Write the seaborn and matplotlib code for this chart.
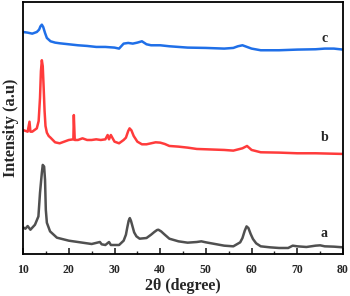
import numpy as np
import pandas as pd
import seaborn as sns
import matplotlib
matplotlib.use("Agg")
import matplotlib.pyplot as plt
from matplotlib.ticker import MultipleLocator

# 2theta positions and intensities (arbitrary units)
two_theta_a = [10, 10.5, 11, 11.6, 12.6, 13.35, 13.7, 14.1, 14.3, 14.6, 14.8, 14.97, 15.2, 15.9, 17.4,
               20, 25, 26.8, 27.2, 28, 28.8, 29.2, 30, 31, 32, 32.5, 32.8, 33.1, 33.35, 33.6, 33.9,
               34.3, 34.8, 35.5, 37, 38, 38.7, 39.3, 39.6, 40.2, 41, 42, 44, 46, 48, 49, 50, 52, 54,
               56, 57.5, 58, 58.5, 58.9, 59.3, 59.8, 60.3, 61, 62, 64, 66, 68, 69, 70, 72, 74, 75,
               76, 78, 80]
intensity_a = [80, 76, 84, 73, 88, 113, 184, 244, 268, 263, 223, 133, 94, 68, 49,
               40, 30, 36, 29, 27, 36, 27, 27, 27, 40, 58, 80, 100, 108, 100, 85,
               65, 53, 46, 48, 58, 66, 72, 73, 68, 58, 46, 38, 34, 36, 38, 35, 30, 25,
               23, 35, 48, 70, 83, 78, 60, 45, 32, 23, 20, 18, 18, 25, 23, 21, 25, 26,
               23, 22, 20]

two_theta_b = [10, 11, 11.4, 11.6, 12, 13, 13.4, 13.7, 13.9, 14.1, 14.3, 14.5, 14.7, 14.9, 15.2, 15.6,
               16, 17, 18, 19, 20, 21, 21.1, 21.3, 22, 23, 24, 25, 26, 27, 28, 28.5, 28.8, 29.2,
               30, 31, 32, 32.5, 33, 33.3, 33.7, 34.2, 35, 36, 37, 38, 39, 40, 41, 42, 44, 46,
               48, 50, 54, 56, 58, 59, 60, 62, 66, 70, 74, 80]
intensity_b = [373, 368, 398, 368, 368, 378, 400, 470, 550, 583, 565, 500, 430, 385, 365, 355,
               350, 336, 333, 338, 343, 345, 418, 343, 343, 348, 343, 343, 345, 343, 345, 358, 345, 358,
               338, 333, 343, 350, 370, 378, 372, 355, 338, 330, 330, 333, 336, 335, 331, 325, 323, 320,
               316, 315, 313, 311, 318, 325, 313, 306, 305, 303, 303, 301]

two_theta_c = [10, 11, 12, 13, 13.5, 13.8, 14.1, 14.4, 14.8, 15.2, 16, 17, 18, 20, 22, 24, 26, 28,
               30, 31, 32, 33, 34, 35, 36, 37, 38, 40, 42, 44, 46, 50, 54, 56, 57, 58, 59, 60,
               62, 64, 66, 70, 74, 76, 78, 80]
intensity_c = [668, 666, 663, 668, 675, 685, 690, 683, 665, 650, 640, 636, 634, 631, 628, 626, 623, 623,
               621, 618, 633, 635, 633, 636, 640, 631, 628, 628, 625, 623, 621, 620, 618, 620, 625, 628, 623, 618,
               613, 613, 613, 615, 616, 618, 618, 615]

sample_labels = ["a", "b", "c"]

sns.set_theme(style="ticks")
plt.rcParams['font.family'] = ['Liberation Serif', 'DejaVu Serif']
plt.rcParams['font.weight'] = 'bold'

fig = plt.figure(figsize=(3.5, 2.96), dpi=100)
ax = fig.add_axes([0.066, 0.142, 0.914, 0.851])

colors = ["#505050", "#ff3b3b", "#1f6fe8"]
series = [(two_theta_a, intensity_a), (two_theta_b, intensity_b), (two_theta_c, intensity_c)]
for (xs, ys), col in zip(series, colors):
    df = pd.DataFrame({"x": xs, "y": ys})
    sns.lineplot(data=df, x="x", y="y", ax=ax, color=col, lw=1.8, estimator=None, sort=False)

label_pos = [(75.9, 63), (75.9, 351), (75.9, 648)]
for lab, (lx, ly) in zip(sample_labels, label_pos):
    ax.text(lx, ly, lab, fontsize=10, fontweight='bold', ha='center', va='center')

ax.set_xlim(10, 80)
ax.set_ylim(0, 758)
ax.set_yticks([])
ax.xaxis.set_major_locator(MultipleLocator(10))
ax.xaxis.set_minor_locator(MultipleLocator(5))
ax.tick_params(axis='x', which='major', direction='in', length=4, width=1.2, labelsize=8.5, pad=7)
ax.tick_params(axis='x', which='minor', direction='in', length=2.5, width=1.0)
for lbl in ax.get_xticklabels():
    lbl.set_fontweight('bold')
for s in ax.spines.values():
    s.set_linewidth(1.3)
    s.set_color('black')
    s.set_visible(True)

ax.set_xlabel("2θ (degree)", fontsize=11.5, fontweight='bold', labelpad=1.5)
ax.set_ylabel("Intensity (a.u)", fontsize=11.8, fontweight='bold', labelpad=3)

fig.savefig("out.png", dpi=100)
